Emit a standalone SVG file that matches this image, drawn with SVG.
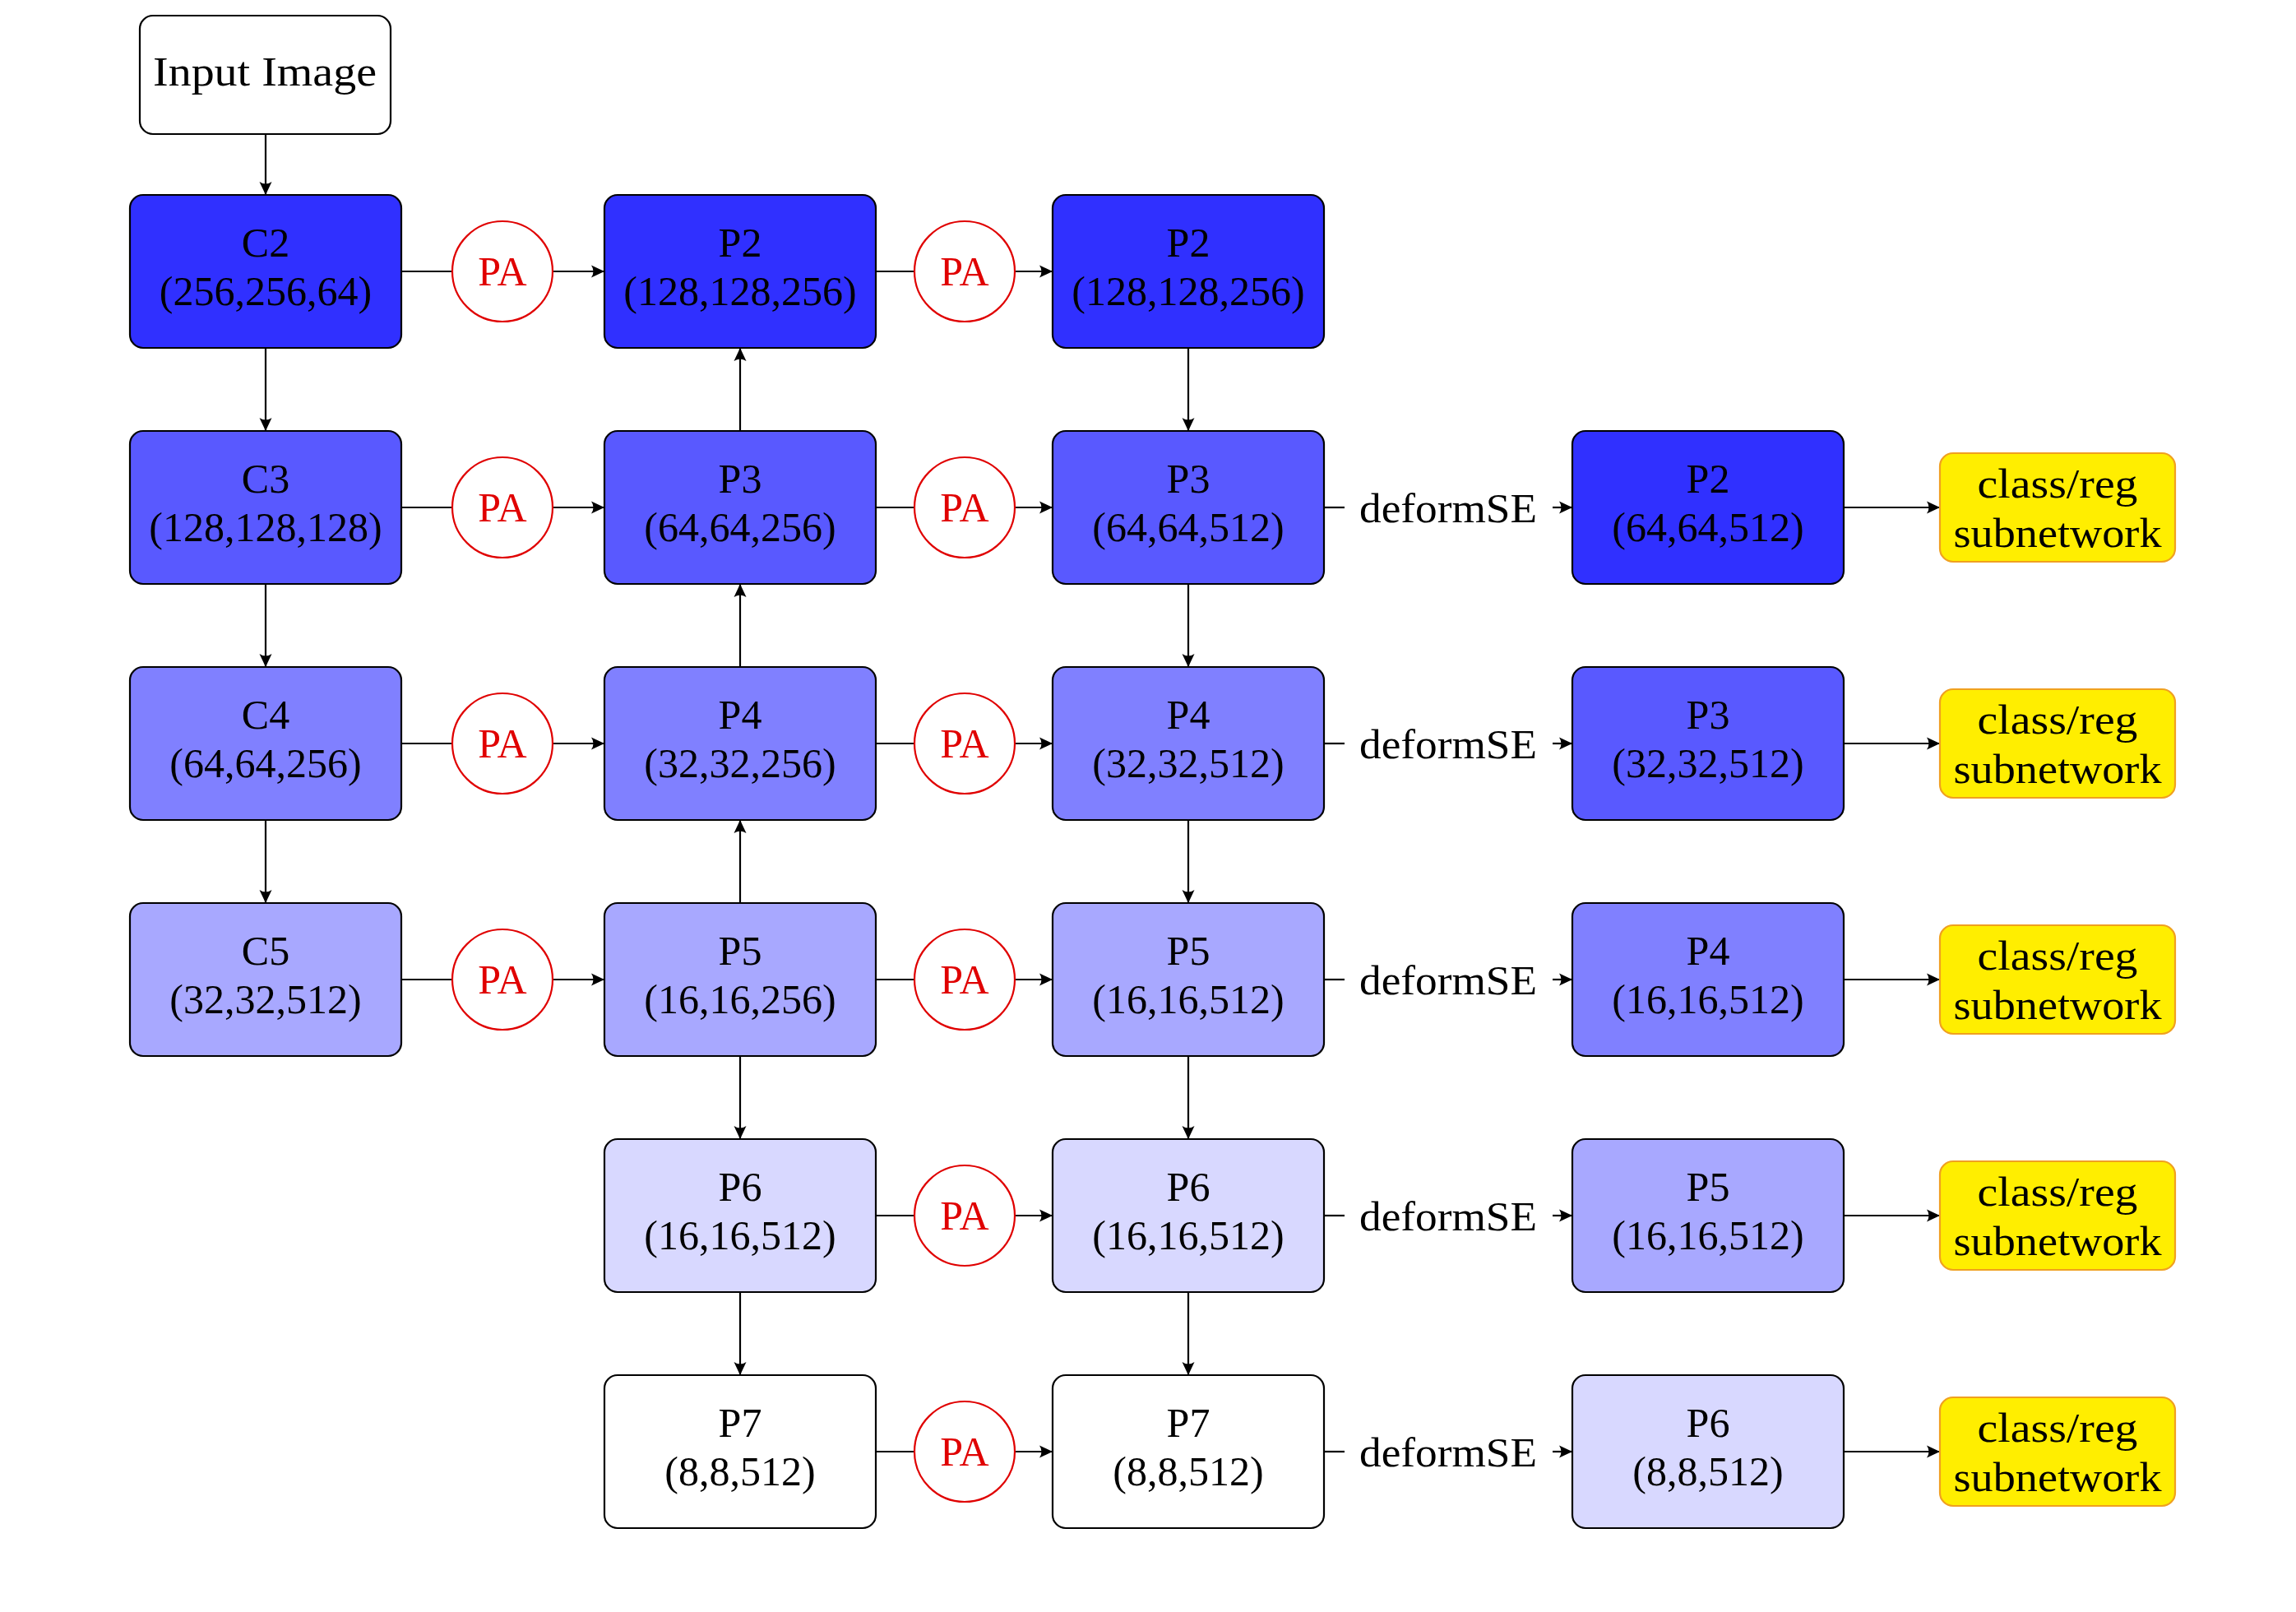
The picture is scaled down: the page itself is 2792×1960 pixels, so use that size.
<svg xmlns="http://www.w3.org/2000/svg" width="2792" height="1960" viewBox="0 0 2792 1960">
<style>
text{font-family:"Liberation Serif","Times New Roman",serif;font-size:50px;text-anchor:middle;fill:#000}
.box{stroke:#000;stroke-width:2.2}
.b80{fill:#3030FF}.b65{fill:#5959FF}.b50{fill:#8080FF}.b35{fill:#A8A8FF}.b15{fill:#D8D8FF}.w{fill:#fff}
.y{fill:#FFEE00;stroke:#F0A020;stroke-width:2.2}
.pa{fill:#fff;stroke:#E00000;stroke-width:2.2}
.pat{fill:#E00000}
.c line{stroke:#000;stroke-width:2.2}
.c .a{marker-end:url(#ah)}
</style>
<defs>
<marker id="ah" markerUnits="userSpaceOnUse" markerWidth="20" markerHeight="18" refX="16" refY="8" orient="auto">
<path d="M16,8 L0,0.5 Q5,8 0,15.5 Z" fill="#000"/>
</marker>
</defs>
<g id="connectors" class="c">
<line class="a" x1="323" y1="163" x2="323" y2="237"/>
<line class="a" x1="323" y1="423" x2="323" y2="524"/>
<line class="a" x1="323" y1="710" x2="323" y2="811"/>
<line class="a" x1="323" y1="997" x2="323" y2="1098"/>
<line class="a" x1="900" y1="524" x2="900" y2="423"/>
<line class="a" x1="900" y1="811" x2="900" y2="710"/>
<line class="a" x1="900" y1="1098" x2="900" y2="997"/>
<line class="a" x1="900" y1="1284" x2="900" y2="1385"/>
<line class="a" x1="900" y1="1571" x2="900" y2="1672"/>
<line class="a" x1="1445" y1="423" x2="1445" y2="524"/>
<line class="a" x1="1445" y1="710" x2="1445" y2="811"/>
<line class="a" x1="1445" y1="997" x2="1445" y2="1098"/>
<line class="a" x1="1445" y1="1284" x2="1445" y2="1385"/>
<line class="a" x1="1445" y1="1571" x2="1445" y2="1672"/>
<!-- col1 -> PA -> col2 -->
<line x1="488" y1="330" x2="550" y2="330"/><line class="a" x1="672" y1="330" x2="735" y2="330"/>
<line x1="488" y1="617" x2="550" y2="617"/><line class="a" x1="672" y1="617" x2="735" y2="617"/>
<line x1="488" y1="904" x2="550" y2="904"/><line class="a" x1="672" y1="904" x2="735" y2="904"/>
<line x1="488" y1="1191" x2="550" y2="1191"/><line class="a" x1="672" y1="1191" x2="735" y2="1191"/>
<!-- col2 -> PA -> col3 -->
<line x1="1065" y1="330" x2="1112" y2="330"/><line class="a" x1="1234" y1="330" x2="1280" y2="330"/>
<line x1="1065" y1="617" x2="1112" y2="617"/><line class="a" x1="1234" y1="617" x2="1280" y2="617"/>
<line x1="1065" y1="904" x2="1112" y2="904"/><line class="a" x1="1234" y1="904" x2="1280" y2="904"/>
<line x1="1065" y1="1191" x2="1112" y2="1191"/><line class="a" x1="1234" y1="1191" x2="1280" y2="1191"/>
<line x1="1065" y1="1478" x2="1112" y2="1478"/><line class="a" x1="1234" y1="1478" x2="1280" y2="1478"/>
<line x1="1065" y1="1765" x2="1112" y2="1765"/><line class="a" x1="1234" y1="1765" x2="1280" y2="1765"/>
<!-- col3 -> deformSE -> col4 -->
<line x1="1610" y1="617" x2="1635" y2="617"/><line class="a" x1="1888" y1="617" x2="1912" y2="617"/>
<line x1="1610" y1="904" x2="1635" y2="904"/><line class="a" x1="1888" y1="904" x2="1912" y2="904"/>
<line x1="1610" y1="1191" x2="1635" y2="1191"/><line class="a" x1="1888" y1="1191" x2="1912" y2="1191"/>
<line x1="1610" y1="1478" x2="1635" y2="1478"/><line class="a" x1="1888" y1="1478" x2="1912" y2="1478"/>
<line x1="1610" y1="1765" x2="1635" y2="1765"/><line class="a" x1="1888" y1="1765" x2="1912" y2="1765"/>
<!-- col4 -> subnetwork -->
<line class="a" x1="2242" y1="617" x2="2359" y2="617"/>
<line class="a" x1="2242" y1="904" x2="2359" y2="904"/>
<line class="a" x1="2242" y1="1191" x2="2359" y2="1191"/>
<line class="a" x1="2242" y1="1478" x2="2359" y2="1478"/>
<line class="a" x1="2242" y1="1765" x2="2359" y2="1765"/>
<text x="1761" y="635" textLength="216" lengthAdjust="spacingAndGlyphs">deformSE</text>
<text x="1761" y="922" textLength="216" lengthAdjust="spacingAndGlyphs">deformSE</text>
<text x="1761" y="1209" textLength="216" lengthAdjust="spacingAndGlyphs">deformSE</text>
<text x="1761" y="1496" textLength="216" lengthAdjust="spacingAndGlyphs">deformSE</text>
<text x="1761" y="1783" textLength="216" lengthAdjust="spacingAndGlyphs">deformSE</text>
</g>
<g id="input"><rect class="box w" x="170" y="19" width="305" height="144" rx="16"/><text x="322" y="104" textLength="272" lengthAdjust="spacingAndGlyphs">Input Image</text></g>
<g id="C2"><rect class="box b80" x="158" y="237" width="330" height="186" rx="16"/><text x="323" y="312">C2</text><text x="323" y="371">(256,256,64)</text></g>
<g id="C3"><rect class="box b65" x="158" y="524" width="330" height="186" rx="16"/><text x="323" y="599">C3</text><text x="323" y="658">(128,128,128)</text></g>
<g id="C4"><rect class="box b50" x="158" y="811" width="330" height="186" rx="16"/><text x="323" y="886">C4</text><text x="323" y="945">(64,64,256)</text></g>
<g id="C5"><rect class="box b35" x="158" y="1098" width="330" height="186" rx="16"/><text x="323" y="1173">C5</text><text x="323" y="1232">(32,32,512)</text></g>
<g id="P2a"><rect class="box b80" x="735" y="237" width="330" height="186" rx="16"/><text x="900" y="312">P2</text><text x="900" y="371">(128,128,256)</text></g>
<g id="P3a"><rect class="box b65" x="735" y="524" width="330" height="186" rx="16"/><text x="900" y="599">P3</text><text x="900" y="658">(64,64,256)</text></g>
<g id="P4a"><rect class="box b50" x="735" y="811" width="330" height="186" rx="16"/><text x="900" y="886">P4</text><text x="900" y="945">(32,32,256)</text></g>
<g id="P5a"><rect class="box b35" x="735" y="1098" width="330" height="186" rx="16"/><text x="900" y="1173">P5</text><text x="900" y="1232">(16,16,256)</text></g>
<g id="P6a"><rect class="box b15" x="735" y="1385" width="330" height="186" rx="16"/><text x="900" y="1460">P6</text><text x="900" y="1519">(16,16,512)</text></g>
<g id="P7a"><rect class="box w" x="735" y="1672" width="330" height="186" rx="16"/><text x="900" y="1747">P7</text><text x="900" y="1806">(8,8,512)</text></g>
<g id="P2b"><rect class="box b80" x="1280" y="237" width="330" height="186" rx="16"/><text x="1445" y="312">P2</text><text x="1445" y="371">(128,128,256)</text></g>
<g id="P3b"><rect class="box b65" x="1280" y="524" width="330" height="186" rx="16"/><text x="1445" y="599">P3</text><text x="1445" y="658">(64,64,512)</text></g>
<g id="P4b"><rect class="box b50" x="1280" y="811" width="330" height="186" rx="16"/><text x="1445" y="886">P4</text><text x="1445" y="945">(32,32,512)</text></g>
<g id="P5b"><rect class="box b35" x="1280" y="1098" width="330" height="186" rx="16"/><text x="1445" y="1173">P5</text><text x="1445" y="1232">(16,16,512)</text></g>
<g id="P6b"><rect class="box b15" x="1280" y="1385" width="330" height="186" rx="16"/><text x="1445" y="1460">P6</text><text x="1445" y="1519">(16,16,512)</text></g>
<g id="P7b"><rect class="box w" x="1280" y="1672" width="330" height="186" rx="16"/><text x="1445" y="1747">P7</text><text x="1445" y="1806">(8,8,512)</text></g>
<g id="P2c"><rect class="box b80" x="1912" y="524" width="330" height="186" rx="16"/><text x="2077" y="599">P2</text><text x="2077" y="658">(64,64,512)</text></g>
<g id="P3c"><rect class="box b65" x="1912" y="811" width="330" height="186" rx="16"/><text x="2077" y="886">P3</text><text x="2077" y="945">(32,32,512)</text></g>
<g id="P4c"><rect class="box b50" x="1912" y="1098" width="330" height="186" rx="16"/><text x="2077" y="1173">P4</text><text x="2077" y="1232">(16,16,512)</text></g>
<g id="P5c"><rect class="box b35" x="1912" y="1385" width="330" height="186" rx="16"/><text x="2077" y="1460">P5</text><text x="2077" y="1519">(16,16,512)</text></g>
<g id="P6c"><rect class="box b15" x="1912" y="1672" width="330" height="186" rx="16"/><text x="2077" y="1747">P6</text><text x="2077" y="1806">(8,8,512)</text></g>
<g id="sub1"><rect class="y" x="2359" y="551" width="286" height="132" rx="16"/><text x="2502" y="605" textLength="195" lengthAdjust="spacingAndGlyphs">class/reg</text><text x="2502" y="665" textLength="253" lengthAdjust="spacingAndGlyphs">subnetwork</text></g>
<g id="sub2"><rect class="y" x="2359" y="838" width="286" height="132" rx="16"/><text x="2502" y="892" textLength="195" lengthAdjust="spacingAndGlyphs">class/reg</text><text x="2502" y="952" textLength="253" lengthAdjust="spacingAndGlyphs">subnetwork</text></g>
<g id="sub3"><rect class="y" x="2359" y="1125" width="286" height="132" rx="16"/><text x="2502" y="1179" textLength="195" lengthAdjust="spacingAndGlyphs">class/reg</text><text x="2502" y="1239" textLength="253" lengthAdjust="spacingAndGlyphs">subnetwork</text></g>
<g id="sub4"><rect class="y" x="2359" y="1412" width="286" height="132" rx="16"/><text x="2502" y="1466" textLength="195" lengthAdjust="spacingAndGlyphs">class/reg</text><text x="2502" y="1526" textLength="253" lengthAdjust="spacingAndGlyphs">subnetwork</text></g>
<g id="sub5"><rect class="y" x="2359" y="1699" width="286" height="132" rx="16"/><text x="2502" y="1753" textLength="195" lengthAdjust="spacingAndGlyphs">class/reg</text><text x="2502" y="1813" textLength="253" lengthAdjust="spacingAndGlyphs">subnetwork</text></g>
<g id="PA1"><circle class="pa" cx="611" cy="330" r="61"/><text class="pat" x="611" y="347">PA</text></g>
<g id="PA2"><circle class="pa" cx="611" cy="617" r="61"/><text class="pat" x="611" y="634">PA</text></g>
<g id="PA3"><circle class="pa" cx="611" cy="904" r="61"/><text class="pat" x="611" y="921">PA</text></g>
<g id="PA4"><circle class="pa" cx="611" cy="1191" r="61"/><text class="pat" x="611" y="1208">PA</text></g>
<g id="PA5"><circle class="pa" cx="1173" cy="330" r="61"/><text class="pat" x="1173" y="347">PA</text></g>
<g id="PA6"><circle class="pa" cx="1173" cy="617" r="61"/><text class="pat" x="1173" y="634">PA</text></g>
<g id="PA7"><circle class="pa" cx="1173" cy="904" r="61"/><text class="pat" x="1173" y="921">PA</text></g>
<g id="PA8"><circle class="pa" cx="1173" cy="1191" r="61"/><text class="pat" x="1173" y="1208">PA</text></g>
<g id="PA9"><circle class="pa" cx="1173" cy="1478" r="61"/><text class="pat" x="1173" y="1495">PA</text></g>
<g id="PA10"><circle class="pa" cx="1173" cy="1765" r="61"/><text class="pat" x="1173" y="1782">PA</text></g>
</svg>
